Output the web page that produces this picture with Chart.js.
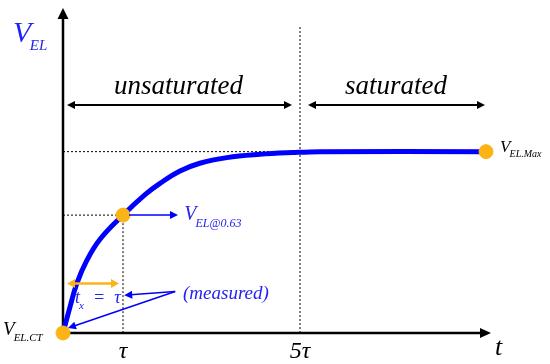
<!DOCTYPE html>
<html>
<head>
<meta charset="utf-8">
<script src="https://cdn.jsdelivr.net/npm/chart.js@4"></script>
<style>
  html, body { margin: 0; padding: 0; background: #fff; }
  #wrap { width: 550px; height: 364px; }
</style>
</head>
<body>
<div id="wrap"><canvas id="chart" width="550" height="364"></canvas></div>
<script>
// Charging curve, time in units of tau (as drawn), voltage normalised to V_EL.Max
const curveT = [0, 0.117, 0.228, 0.395, 0.617, 1.0, 1.372, 1.617, 1.95, 2.28, 2.73, 3.28, 3.83, 4.28, 7.05];
const curveV = [0, 0.144, 0.271, 0.399, 0.517, 0.65, 0.764, 0.825, 0.893, 0.936, 0.967, 0.985, 0.995, 1.0, 1.0];

// Marked points: V_EL.CT, V_EL@0.63, V_EL.Max
const keyT = [0, 1.0, 7.05];
const keyV = [0, 0.65, 1.0];

// Tick labels on the time axis
const tickT = [1.0, 3.95];
const tickLabels = ['τ', '5τ'];

// Guide lines (dotted)
const guideLines = [
    [[0, 0.65], [1.0, 0.65]],
    [[1.0, 0.65], [1.0, 0]],
    [[0, 1.0], [4.9, 1.0]],
    [[3.95, 0], [3.95, 1.694]]
];

const BLUE = '#0000ff';
const TXT_BLUE = '#2323f0';
const ORANGE = '#fbb416';
const SERIF = '"Liberation Serif", "DejaVu Serif", serif';

const toXY = (xs, ys) => xs.map((x, i) => ({ x: x, y: ys[i] }));

// Draw a line with arrowheads at either end
function arrow(ctx, x1, y1, x2, y2, opts) {
    const head = opts.head || 8;
    const half = opts.half || 4;
    ctx.save();
    ctx.strokeStyle = opts.color;
    ctx.fillStyle = opts.color;
    ctx.lineWidth = opts.width;
    const ang = Math.atan2(y2 - y1, x2 - x1);
    const sx = opts.start ? x1 + Math.cos(ang) * head * 0.8 : x1;
    const sy = opts.start ? y1 + Math.sin(ang) * head * 0.8 : y1;
    const ex = x2 - Math.cos(ang) * head * 0.8;
    const ey = y2 - Math.sin(ang) * head * 0.8;
    ctx.beginPath();
    ctx.moveTo(sx, sy);
    ctx.lineTo(ex, ey);
    ctx.stroke();
    const tri = (tx, ty, a) => {
        ctx.beginPath();
        ctx.moveTo(tx, ty);
        ctx.lineTo(tx - Math.cos(a) * head + Math.sin(a) * half, ty - Math.sin(a) * head - Math.cos(a) * half);
        ctx.lineTo(tx - Math.cos(a) * head - Math.sin(a) * half, ty - Math.sin(a) * head + Math.cos(a) * half);
        ctx.closePath();
        ctx.fill();
    };
    tri(x2, y2, ang);
    if (opts.start) tri(x1, y1, ang + Math.PI);
    ctx.restore();
}

// Italic symbol with a subscript
function subText(ctx, x, y, main, sub, size, subSize, color) {
    ctx.save();
    ctx.fillStyle = color;
    ctx.textAlign = 'left';
    ctx.textBaseline = 'alphabetic';
    ctx.font = 'italic ' + size + 'px ' + SERIF;
    ctx.fillText(main, x, y);
    const w = ctx.measureText(main).width;
    ctx.font = 'italic ' + subSize + 'px ' + SERIF;
    ctx.fillText(sub, x + w - size * 0.05, y + subSize * 0.55);
    ctx.restore();
}

function plainText(ctx, x, y, str, size, color, align) {
    ctx.save();
    ctx.fillStyle = color;
    ctx.textAlign = align || 'left';
    ctx.textBaseline = 'alphabetic';
    ctx.font = 'italic ' + size + 'px ' + SERIF;
    ctx.fillText(str, x, y);
    ctx.restore();
}

const diagramPlugin = {
    id: 'diagram',
    beforeDatasetsDraw(chart) {
        const { ctx, chartArea: a } = chart;
        const xs = chart.scales.x, ys = chart.scales.y;
        const x0 = xs.getPixelForValue(0), y0 = ys.getPixelForValue(0);
        // axes with arrowheads
        arrow(ctx, x0, y0 + 1, x0, a.top, { color: '#000', width: 2.5, head: 11, half: 5.5 });
        arrow(ctx, x0 - 1, y0, a.right, y0, { color: '#000', width: 2.5, head: 11, half: 5 });
    },
    afterDatasetsDraw(chart) {
        const { ctx } = chart;
        const xs = chart.scales.x, ys = chart.scales.y;
        const X = v => xs.getPixelForValue(v);
        const Y = v => ys.getPixelForValue(v);

        // region arrows and labels
        arrow(ctx, X(0.067), Y(1.257), X(3.817), Y(1.257), { color: '#000', width: 2, head: 8, half: 4, start: true });
        arrow(ctx, X(4.083), Y(1.257), X(7.033), Y(1.257), { color: '#000', width: 2, head: 8, half: 4, start: true });
        plainText(ctx, X(1.925), Y(1.317), 'unsaturated', 27, '#000', 'center');
        plainText(ctx, X(5.55), Y(1.317), 'saturated', 27, '#000', 'center');

        // axis labels
        subText(ctx, X(-0.833), Y(1.607), 'V', 'EL', 30, 15, TXT_BLUE);
        plainText(ctx, X(7.2), Y(-0.12), 't', 26, '#000');
        tickT.forEach((t, i) => plainText(ctx, X(t), Y(-0.137), tickLabels[i], 24, '#000', 'center'));

        // point labels
        arrow(ctx, X(1.1), Y(0.65), X(1.917), Y(0.65), { color: BLUE, width: 1.5, head: 8, half: 4 });
        subText(ctx, X(2.02), Y(0.623), 'V', 'EL@0.63', 20, 12, TXT_BLUE);
        subText(ctx, X(7.283), Y(1.0), 'V', 'EL.Max', 17, 10, '#000');
        subText(ctx, X(-1.0), Y(-0.011), 'V', 'EL.CT', 19, 11, '#000');

        // measured tau
        arrow(ctx, X(0.067), Y(0.273), X(0.933), Y(0.273), { color: ORANGE, width: 2.5, head: 8, half: 4.5, start: true });
        subText(ctx, X(0.2), Y(0.164), 't', 'x', 18, 11, TXT_BLUE);
        plainText(ctx, X(0.5), Y(0.164), '=  τ', 18, TXT_BLUE);
        plainText(ctx, X(2.0), Y(0.19), '(measured)', 19, TXT_BLUE);
        arrow(ctx, X(1.87), Y(0.229), X(1.02), Y(0.208), { color: BLUE, width: 1.5, head: 8, half: 4 });
        arrow(ctx, X(1.87), Y(0.229), X(0.083), Y(0.027), { color: BLUE, width: 1.5, head: 8, half: 4 });
    }
};

const guideSets = guideLines.map(seg => ({
    type: 'line',
    data: seg.map(p => ({ x: p[0], y: p[1] })),
    borderColor: '#000',
    borderWidth: 1,
    borderDash: [2, 2],
    pointRadius: 0,
    fill: false,
    clip: false,
    order: 3
}));

new Chart(document.getElementById('chart'), {
    type: 'scatter',
    data: {
        datasets: [
            {
                type: 'scatter',
                data: toXY(keyT, keyV),
                backgroundColor: ORANGE,
                borderColor: ORANGE,
                pointRadius: 7,
                clip: false,
                order: 0
            },
            {
                type: 'line',
                data: toXY(curveT, curveV),
                borderColor: BLUE,
                borderWidth: 5,
                pointRadius: 0,
                tension: 0.4,
                fill: false,
                clip: false,
                order: 1
            },
            ...guideSets
        ]
    },
    options: {
        responsive: false,
        animation: false,
        events: [],
        layout: { padding: { left: 63, right: 59, top: 5, bottom: 31 } },
        plugins: {
            legend: { display: false },
            tooltip: { enabled: false }
        },
        scales: {
            x: { type: 'linear', min: 0, max: 7.133, display: false },
            y: { type: 'linear', min: 0, max: 1.792, display: false }
        }
    },
    plugins: [diagramPlugin]
});
</script>
</body>
</html>
